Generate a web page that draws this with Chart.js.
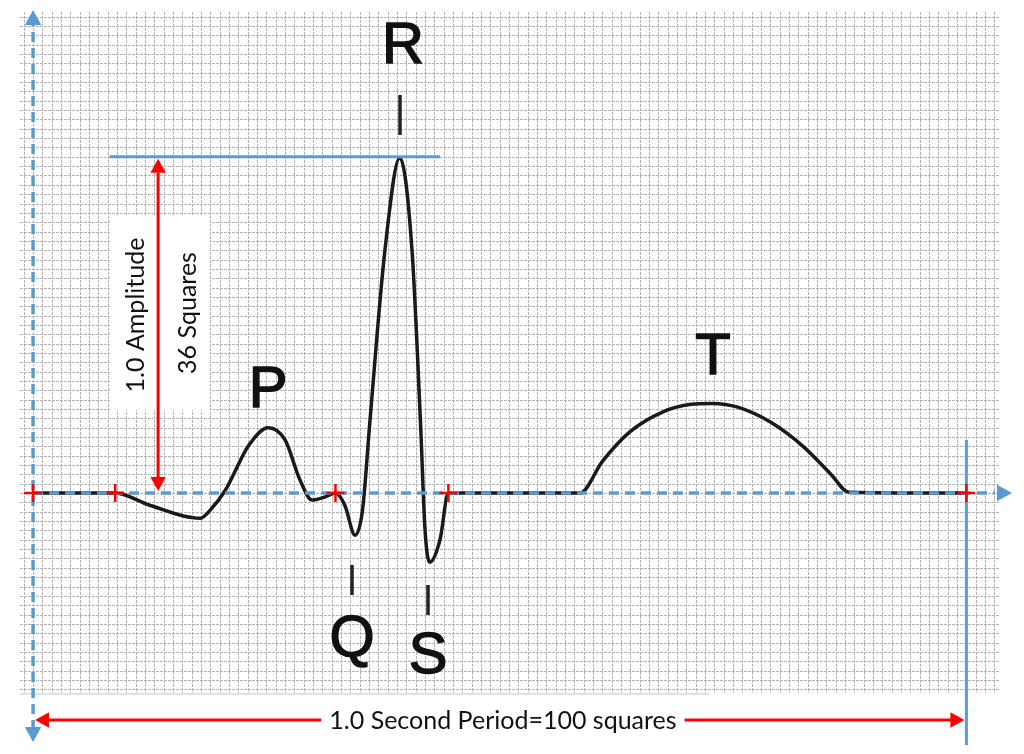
<!DOCTYPE html>
<html>
<head>
<meta charset="utf-8">
<script src="https://cdn.jsdelivr.net/npm/chart.js@4/dist/chart.umd.min.js"></script>
<style>
  html, body { margin: 0; padding: 0; background: #fff; }
  #wrap { width: 1024px; height: 754px; }
</style>
</head>
<body>
<div id="wrap"><canvas id="ecg"></canvas></div>
<script>
// units are grid squares: x = time (100 squares = 1 s), y = amplitude (36 squares = 1.0)
const waveX = [0, 8.8, 12.5, 17.9, 19.0, 20.6, 23.1, 25.2, 27.0, 28.6, 29.9, 31.3, 32.4,
  33.4, 34.5, 35.3, 36.1, 37.7, 39.3, 40.6, 41.5, 42.0, 42.5, 43.6, 44.5, 58.6,
  61.0, 64.0, 67.5, 70.5, 72.8, 75.5, 79.0, 82.5, 85.5, 87.4, 100];
const waveY = [0, 0, -1.3, -2.7, -1.8, 0.3, 5.1, 7.0, 5.7, 1.4, -0.75, -0.4, 0,
  -1.3, -4.5, -1.8, 7.8, 26.0, 35.9, 26.0, 7.8, -4.0, -7.4, -5.0, 0, 0,
  3.4, 6.6, 8.7, 9.5, 9.6, 9.2, 7.6, 5.0, 2.0, 0.1, 0];
const crossX = [0, 8.8, 32.4, 44.5, 100];
const xRange = [-1.4, 103.6];
const yRange = [-21.4, 51.5];
const peakY = 36;
const periodX = 100;

const wave = waveX.map((x, i) => ({ x, y: waveY[i] }));

const decor = {
  id: 'decor',
  beforeDatasetsDraw(chart) {
    const { ctx, chartArea: a, scales: { x, y } } = chart;
    ctx.save();
    ctx.strokeStyle = '#b4b4b4';
    ctx.lineWidth = 1;
    ctx.setLineDash([3, 1]);
    for (let i = Math.ceil(xRange[0]); i <= xRange[1]; i++) {
      const px = Math.round(x.getPixelForValue(i)) + 0.5;
      ctx.beginPath(); ctx.moveTo(px, a.top); ctx.lineTo(px, a.bottom); ctx.stroke();
    }
    for (let j = Math.ceil(yRange[0]); j <= yRange[1]; j++) {
      const py = Math.round(y.getPixelForValue(j)) + 0.5;
      ctx.beginPath(); ctx.moveTo(a.left, py); ctx.lineTo(a.right, py); ctx.stroke();
    }
    ctx.setLineDash([]);
    ctx.strokeStyle = '#b8cce4';
    ctx.beginPath(); ctx.moveTo(a.left, a.bottom + 1); ctx.lineTo(710, a.bottom + 1); ctx.stroke();
    ctx.fillStyle = '#fff';
    ctx.fillRect(110, 215, 100, 195);
    ctx.restore();
  },
  afterDatasetsDraw(chart) {
    const { ctx, scales: { x, y } } = chart;
    const X = v => x.getPixelForValue(v), Y = v => y.getPixelForValue(v);
    const x0 = X(0), y0 = Y(0);
    ctx.save();
    const blue = '#5b9bd5', red = '#ff0000';
    const arrow = (px, py, dx, dy, col, s) => {
      ctx.fillStyle = col;
      ctx.beginPath();
      ctx.moveTo(px, py);
      ctx.lineTo(px - dx * s - dy * s * 0.55, py - dy * s + dx * s * 0.55);
      ctx.lineTo(px - dx * s + dy * s * 0.55, py - dy * s - dx * s * 0.55);
      ctx.closePath(); ctx.fill();
    };
    ctx.strokeStyle = blue; ctx.lineWidth = 3.5; ctx.setLineDash([10, 6]);
    ctx.beginPath(); ctx.moveTo(x0, 730); ctx.lineTo(x0, 22); ctx.stroke();
    ctx.beginPath(); ctx.moveTo(x0, y0); ctx.lineTo(995, y0); ctx.stroke();
    ctx.setLineDash([]);
    arrow(x0, 10, 0, -1, blue, 15);
    arrow(x0, 742, 0, 1, blue, 15);
    arrow(1012, y0, 1, 0, blue, 15);
    ctx.lineWidth = 3;
    ctx.beginPath(); ctx.moveTo(X(8.2), Y(peakY)); ctx.lineTo(X(43.6), Y(peakY)); ctx.stroke();
    ctx.beginPath(); ctx.moveTo(X(periodX), Y(5.7)); ctx.lineTo(X(periodX), 745); ctx.stroke();
    ctx.strokeStyle = red; ctx.lineWidth = 3;
    const ax = X(13.4);
    ctx.beginPath(); ctx.moveTo(ax, Y(peakY) + 16); ctx.lineTo(ax, y0 - 16); ctx.stroke();
    arrow(ax, Y(peakY) + 2, 0, -1, red, 14);
    arrow(ax, y0 - 2, 0, 1, red, 14);
    const ay = 720;
    ctx.beginPath(); ctx.moveTo(x0 + 14, ay); ctx.lineTo(X(periodX) - 14, ay); ctx.stroke();
    arrow(x0 + 2, ay, -1, 0, red, 14);
    arrow(X(periodX) - 2, ay, 1, 0, red, 14);
    ctx.lineWidth = 2.5;
    crossX.forEach(v => {
      const px = X(v);
      ctx.beginPath();
      ctx.moveTo(px - 9, y0); ctx.lineTo(px + 9, y0);
      ctx.moveTo(px, y0 - 9); ctx.lineTo(px, y0 + 9);
      ctx.stroke();
    });
    ctx.strokeStyle = '#222'; ctx.lineWidth = 3.5;
    [[400, 95, 135], [352, 565, 595], [428, 585, 615]].forEach(([px, t, b]) => {
      ctx.beginPath(); ctx.moveTo(px, t); ctx.lineTo(px, b); ctx.stroke();
    });
    ctx.fillStyle = '#111';
    ctx.textAlign = 'center'; ctx.textBaseline = 'middle';
    ctx.font = '58px "Liberation Sans", Arial, sans-serif';
    ctx.lineWidth = 1.5; ctx.strokeStyle = '#111';
    [['R', 403, 47], ['P', 268, 391], ['T', 713, 358], ['Q', 352, 640], ['S', 428, 657]].forEach(([t, px, py]) => {
      ctx.fillText(t, px, py); ctx.strokeText(t, px, py);
    });
    ctx.font = '25px Lato, "Open Sans", sans-serif';
    ctx.fillStyle = '#fff';
    const lab = '1.0 Second Period=100 squares';
    const tw = ctx.measureText(lab).width;
    ctx.fillRect(503 - tw / 2 - 8, 705, tw + 16, 30);
    ctx.fillStyle = '#111';
    ctx.fillText(lab, 503, 721);
    ctx.save();
    ctx.translate(136, 315); ctx.rotate(-Math.PI / 2);
    ctx.fillText('1.0 Amplitude', 0, 0);
    ctx.restore();
    ctx.save();
    ctx.translate(188, 313); ctx.rotate(-Math.PI / 2);
    ctx.fillText('36 Squares', 0, 0);
    ctx.restore();
    ctx.restore();
  }
};

new Chart(document.getElementById('ecg'), {
  type: 'scatter',
  data: {
    datasets: [{
      data: wave,
      showLine: true,
      borderColor: '#1a1a1a',
      borderWidth: 3.5,
      pointRadius: 0,
      cubicInterpolationMode: 'monotone'
    }]
  },
  options: {
    responsive: true,
    maintainAspectRatio: false,
    animation: false,
    layout: { padding: { left: 20, right: 24, top: 12, bottom: 61 } },
    plugins: { legend: { display: false }, tooltip: { enabled: false } },
    scales: {
      x: { type: 'linear', display: false, min: xRange[0], max: xRange[1] },
      y: { type: 'linear', display: false, min: yRange[0], max: yRange[1] }
    }
  },
  plugins: [decor]
});
</script>
</body>
</html>
